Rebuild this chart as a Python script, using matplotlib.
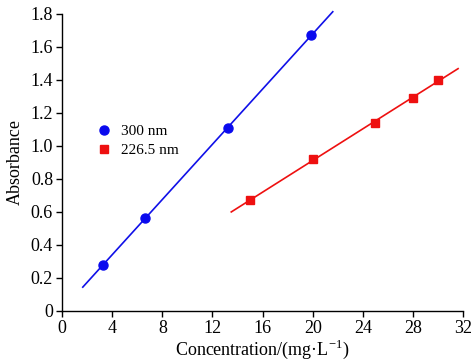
import numpy as np
import matplotlib
matplotlib.use('Agg')
import matplotlib.pyplot as plt

plt.rcParams['font.family'] = 'Liberation Serif'
plt.rcParams['mathtext.fontset'] = 'custom'
plt.rcParams['mathtext.rm'] = 'Liberation Serif'

# 300 nm calibration points
conc_300 = [3.3, 6.6, 13.2, 19.9]
abs_300 = [0.28, 0.56, 1.11, 1.67]
fit_range_300 = [1.65, 21.6]

# 226.5 nm calibration points
conc_226 = [15, 20, 25, 28, 30]
abs_226 = [0.67, 0.92, 1.14, 1.29, 1.40]
fit_range_226 = [13.5, 31.6]

x_ticks = [0, 4, 8, 12, 16, 20, 24, 28, 32]
y_ticks = [0, 0.2, 0.4, 0.6, 0.8, 1.0, 1.2, 1.4, 1.6, 1.8]
y_tick_labels = ['0', '0.2', '0.4', '0.6', '0.8', '1.0', '1.2', '1.4', '1.6', '1.8']

fig = plt.figure(figsize=(4.74, 3.64), dpi=100)
ax = fig.add_axes([0.131, 0.146, 0.846, 0.816])

# linear fits
k1, b1 = np.polyfit(conc_300, abs_300, 1)
xf1 = np.array(fit_range_300)
ax.plot(xf1, k1 * xf1 + b1, color='#1010e8', lw=1.2, clip_on=False)
k2, b2 = np.polyfit(conc_226, abs_226, 1)
xf2 = np.array(fit_range_226)
ax.plot(xf2, k2 * xf2 + b2, color='#ee1010', lw=1.2, clip_on=False)

ax.plot(conc_300, abs_300, 'o', color='#0a0aee', ms=6.5, label='300 nm')
ax.plot(conc_226, abs_226, 's', color='#ee1010', ms=5.5, label='226.5 nm')

ax.set_xlim(0, 32)
ax.set_ylim(0, 1.8)
ax.set_xticks(x_ticks)
ax.set_yticks(y_ticks)
ax.set_yticklabels(y_tick_labels)
ax.tick_params(direction='out', length=4.5, width=1, labelsize=13, pad=2)
for s in ['top', 'right']:
    ax.spines[s].set_visible(False)
for s in ['left', 'bottom']:
    ax.spines[s].set_linewidth(1)

ax.set_xlabel('Concentration/(mg\u00b7L$^{\\mathregular{-1}}$)', fontsize=13, labelpad=1)
ax.set_ylabel('Absorbance', fontsize=13, labelpad=5)

ax.legend(loc='upper left', bbox_to_anchor=(0.07, 0.648), frameon=False,
          fontsize=11, handlelength=1, handletextpad=0.6, labelspacing=0.35,
          borderaxespad=0)

fig.savefig('out.png', dpi=100)
